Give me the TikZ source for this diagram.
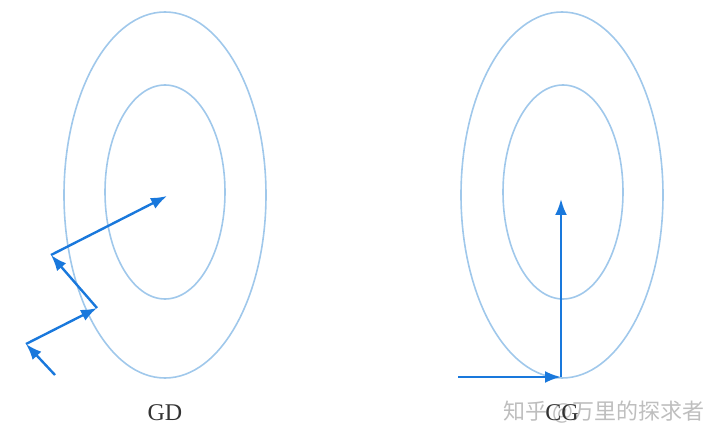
\documentclass[tikz,border=0pt]{standalone}
\usepackage{fontspec}
\setmainfont{Liberation Serif}
\newfontfamily\cjk{Noto Sans CJK SC}
\usetikzlibrary{arrows.meta}
\definecolor{contour}{RGB}{160,200,235}
\definecolor{stepblue}{RGB}{25,120,220}
\definecolor{wmark}{RGB}{190,190,190}
\tikzset{
  contourline/.style={draw=contour, line width=1.6pt},
  steparrow/.style={draw=stepblue, line width=2.4pt, -{Latex[length=16pt,width=12pt]}},
  label/.style={font=\fontsize{24}{26}\selectfont, text=black!80, inner sep=0pt},
}
\begin{document}
\begin{tikzpicture}[x=1pt,y=-1pt]
\useasboundingbox (0,0) rectangle (720,443);
% left contours
\draw[contourline] (165,195) ellipse [x radius=101, y radius=183];
\draw[contourline] (165,192) ellipse [x radius=60, y radius=107];
% right contours
\draw[contourline] (562,195) ellipse [x radius=101, y radius=183];
\draw[contourline] (563,192) ellipse [x radius=60, y radius=107];
% GD path
\coordinate (g0) at (55,375);
\coordinate (g1) at (26,344);
\coordinate (g2) at (97,308);
\coordinate (g3) at (51,255);
\coordinate (g4) at (167,196);
\draw[steparrow] (g0) -- (g1);
\draw[steparrow] (g1) -- (g2);
\draw[steparrow] (g2) -- (g3);
\draw[steparrow] (g3) -- (g4);
% CG path
\coordinate (c0) at (458,377);
\coordinate (c1) at (561,377);
\coordinate (c2) at (561,199);
\draw[steparrow] (c0) -- (c1);
\draw[steparrow] (c1) -- (c2);
% labels
\node[label] (gd) at (165,413) {GD};
\node[anchor=west, inner sep=0pt, text=wmark, font=\cjk\fontsize{22}{24}\selectfont] (wm) at (503,412) {知乎 @万里的探求者};
\node[label] (cg) at (562,413) {CG};
\end{tikzpicture}
\end{document}
